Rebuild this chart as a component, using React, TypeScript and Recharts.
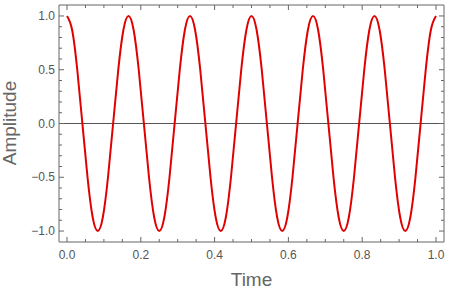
import React from "react";
import { LineChart, Line, XAxis, YAxis, ReferenceLine } from "recharts";

const time = [
  0, 0.0139, 0.0278, 0.0417, 0.0556, 0.0694, 0.0833, 0.0972, 0.1111, 0.125, 0.1389, 0.1528,
  0.1667, 0.1806, 0.1944, 0.2083, 0.2222, 0.2361, 0.25, 0.2639, 0.2778, 0.2917, 0.3056, 0.3194,
  0.3333, 0.3472, 0.3611, 0.375, 0.3889, 0.4028, 0.4167, 0.4306, 0.4444, 0.4583, 0.4722, 0.4861,
  0.5, 0.5139, 0.5278, 0.5417, 0.5556, 0.5694, 0.5833, 0.5972, 0.6111, 0.625, 0.6389, 0.6528,
  0.6667, 0.6806, 0.6944, 0.7083, 0.7222, 0.7361, 0.75, 0.7639, 0.7778, 0.7917, 0.8056, 0.8194,
  0.8333, 0.8472, 0.8611, 0.875, 0.8889, 0.9028, 0.9167, 0.9306, 0.9444, 0.9583, 0.9722, 0.9861,
  1,
];

const amplitude = [
  1, 0.87, 0.5, 0, -0.5, -0.87, -1, -0.87, -0.5, 0, 0.5, 0.87,
  1, 0.87, 0.5, 0, -0.5, -0.87, -1, -0.87, -0.5, 0, 0.5, 0.87,
  1, 0.87, 0.5, 0, -0.5, -0.87, -1, -0.87, -0.5, 0, 0.5, 0.87,
  1, 0.87, 0.5, 0, -0.5, -0.87, -1, -0.87, -0.5, 0, 0.5, 0.87,
  1, 0.87, 0.5, 0, -0.5, -0.87, -1, -0.87, -0.5, 0, 0.5, 0.87,
  1, 0.87, 0.5, 0, -0.5, -0.87, -1, -0.87, -0.5, 0, 0.5, 0.87,
  1,
];

const xMajor = [0, 0.2, 0.4, 0.6, 0.8, 1.0];
const xTicks = [
  0, 0.05, 0.1, 0.15, 0.2, 0.25, 0.3, 0.35, 0.4, 0.45, 0.5, 0.55, 0.6, 0.65, 0.7, 0.75, 0.8, 0.85,
  0.9, 0.95, 1.0,
];
const yMajor = [-1, -0.5, 0, 0.5, 1];
const yTicks = [
  -1, -0.9, -0.8, -0.7, -0.6, -0.5, -0.4, -0.3, -0.2, -0.1, 0, 0.1, 0.2, 0.3, 0.4, 0.5, 0.6, 0.7,
  0.8, 0.9, 1,
];

const data = time.map((t, i) => ({ t, a: amplitude[i] }));

const FRAME = "#666666";
const LABEL = "#555555";
const FONT = "'Liberation Sans', Arial, Helvetica, sans-serif";

const isMajor = (v: number, majors: number[]) => majors.some((m) => Math.abs(m - v) < 1e-6);

const BottomTick = (props: any) => {
  const { x, y, payload } = props;
  const major = isMajor(payload.value, xMajor);
  return (
    <g>
      <line x1={x} y1={y} x2={x} y2={y - (major ? 5 : 3)} stroke={FRAME} strokeWidth={1} />
      {major && (
        <text x={x} y={y + 17} textAnchor="middle" fill={LABEL} fontSize={12} fontFamily={FONT}>
          {payload.value.toFixed(1)}
        </text>
      )}
    </g>
  );
};

const TopTick = (props: any) => {
  const { x, y, payload } = props;
  const major = isMajor(payload.value, xMajor);
  return <line x1={x} y1={y} x2={x} y2={y + (major ? 5 : 3)} stroke={FRAME} strokeWidth={1} />;
};

const LeftTick = (props: any) => {
  const { x, y, payload } = props;
  const major = isMajor(payload.value, yMajor);
  return (
    <g>
      <line x1={x} y1={y} x2={x + (major ? 5 : 3)} y2={y} stroke={FRAME} strokeWidth={1} />
      {major && (
        <text x={x - 4} y={y + 4} textAnchor="end" fill={LABEL} fontSize={12} fontFamily={FONT}>
          {payload.value === 0 ? "0.0" : payload.value.toFixed(1).replace("-", "\u2212")}
        </text>
      )}
    </g>
  );
};

const RightTick = (props: any) => {
  const { x, y, payload } = props;
  const major = isMajor(payload.value, yMajor);
  return <line x1={x} y1={y} x2={x - (major ? 5 : 3)} y2={y} stroke={FRAME} strokeWidth={1} />;
};

export default function App() {
  return (
    <div style={{ position: "relative", width: 450, height: 293, overflow: "hidden" }}>
      <style>{"html,body{margin:0;padding:0;overflow:hidden}"}</style>
      <LineChart
        width={450}
        height={293}
        data={data}
        margin={{ top: 4, right: 5, bottom: 50, left: 58 }}
      >
        <XAxis
          xAxisId="b"
          dataKey="t"
          type="number"
          domain={[-0.0217, 1.0217]}
          ticks={xTicks}
          interval={0}
          height={1}
          tickSize={0}
          tickMargin={0}
          tickLine={false}
          stroke={FRAME}
          tick={<BottomTick />}
          allowDataOverflow
        />
        <XAxis
          xAxisId="top"
          orientation="top"
          dataKey="t"
          type="number"
          domain={[-0.0217, 1.0217]}
          ticks={xTicks}
          interval={0}
          height={1}
          tickSize={0}
          tickMargin={0}
          tickLine={false}
          stroke={FRAME}
          tick={<TopTick />}
          allowDataOverflow
        />
        <YAxis
          yAxisId="l"
          type="number"
          domain={[-1.102, 1.102]}
          ticks={yTicks}
          interval={0}
          width={1}
          tickSize={0}
          tickMargin={0}
          tickLine={false}
          stroke={FRAME}
          tick={<LeftTick />}
          allowDataOverflow
        />
        <YAxis
          yAxisId="r"
          orientation="right"
          type="number"
          domain={[-1.102, 1.102]}
          ticks={yTicks}
          interval={0}
          width={1}
          tickSize={0}
          tickMargin={0}
          tickLine={false}
          stroke={FRAME}
          tick={<RightTick />}
          allowDataOverflow
        />
        <ReferenceLine xAxisId="b" yAxisId="l" y={0} stroke="#555555" strokeWidth={1} />
        <Line
          xAxisId="top"
          yAxisId="r"
          dataKey="a"
          type="natural"
          stroke="none"
          dot={false}
          activeDot={false}
          legendType="none"
          isAnimationActive={false}
        />
        <Line
          xAxisId="b"
          yAxisId="l"
          dataKey="a"
          type="natural"
          stroke="#e00000"
          strokeWidth={2}
          dot={false}
          isAnimationActive={false}
        />
      </LineChart>
      <svg
        width={450}
        height={293}
        style={{ position: "absolute", left: 0, top: 0, pointerEvents: "none" }}
      >
        <text
          x={251.5}
          y={286}
          textAnchor="middle"
          fontFamily={FONT}
          fontSize={19}
          fill={FRAME}
        >
          Time
        </text>
        <text
          x={0}
          y={0}
          transform="translate(16,123) rotate(-90)"
          textAnchor="middle"
          fontFamily={FONT}
          fontSize={19}
          fill={FRAME}
        >
          Amplitude
        </text>
      </svg>
    </div>
  );
}
